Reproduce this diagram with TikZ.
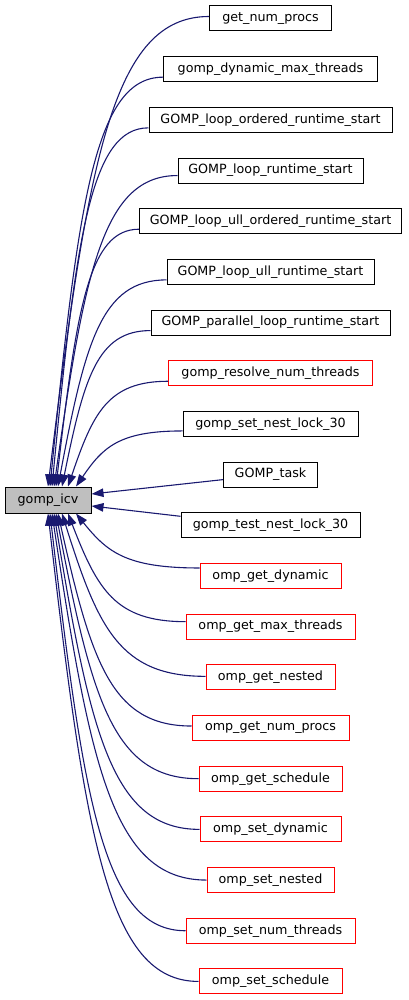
\documentclass[tikz,border=0pt]{standalone}
\usepackage{fontspec}
\setmainfont{DejaVu Sans}
\usetikzlibrary{arrows.meta,calc}
\definecolor{callblue}{HTML}{191970}
\definecolor{icvgray}{HTML}{BFBFBF}
\tikzset{
	every func/.style={
		rectangle,
		draw,
		line width=1pt,
		minimum height=25pt,
		inner sep=0pt,
		font=\fontsize{12.7}{15}\selectfont
	},
	func black/.style={draw=black},
	func red/.style={draw=red},
	call/.style={
		->,
		draw=callblue,
		line width=1.1pt
	},
}
\begin{document}
\begin{tikzpicture}[x=1pt, y=-1pt, >={Triangle[length=12pt,width=8.5pt,fill=callblue]}]

\useasboundingbox (0,0) rectangle (408,1000);

\node [every func/.try, fill=icvgray, minimum width=86pt, minimum height=26pt] (icv) at (48,500) {gomp\_icv};

\foreach \l/\w/\c [count=\k from 0] in {
	get\_num\_procs/122/black,
	gomp\_dynamic\_max\_threads/214/black,
	GOMP\_loop\_ordered\_runtime\_start/243/black,
	GOMP\_loop\_runtime\_start/185/black,
	GOMP\_loop\_ull\_ordered\_runtime\_start/262/black,
	GOMP\_loop\_ull\_runtime\_start/207/black,
	GOMP\_parallel\_loop\_runtime\_start/239/black,
	gomp\_resolve\_num\_threads/204/red,
	gomp\_set\_nest\_lock\_30/175/black,
	GOMP\_task/94/black,
	gomp\_test\_nest\_lock\_30/179/black,
	omp\_get\_dynamic/141/red,
	omp\_get\_max\_threads/169/red,
	omp\_get\_nested/129/red,
	omp\_get\_num\_procs/157/red,
	omp\_get\_schedule/143/red,
	omp\_set\_dynamic/141/red,
	omp\_set\_nested/127/red,
	omp\_set\_num\_threads/169/red,
	omp\_set\_schedule/143/red}
	\node [every func/.try, func \c/.try, minimum width=\w pt] (fn-\k) at (270.5,18.5+50.68*\k) {\l};

% curved calls into the top and bottom of gomp_icv
\foreach \k/\e/\a/\s in {0/0/north/2, 1/2/north/-8, 2/4/north/-8, 3/6/north/-5,
		4/8/north/-8, 5/10/north/-8, 6/14/north/-8, 7/20/north/-8, 8/28/north/-7,
		11/28/south/8, 12/20/south/5, 13/14/south/1, 14/10/south/2, 15/8/south/0,
		16/6/south/0, 17/4/south/0, 18/2/south/0, 19/0/south/0}
	\draw [call] let \p1=([yshift=\s pt]fn-\k.west), \p2=([xshift=\e pt]icv.\a) in
		(\p1) .. controls ({\x2+0.4*(\x1-\x2)},\y1) and ({\x2+0.25*(\x1-\x2)},{\y2+0.7*(\y1-\y2)}) .. (\p2);

% nearly straight calls into the right side
\draw [call] ([yshift=-5pt]fn-9.west) -- ([yshift=6pt]icv.east);
\draw [call] ([yshift=9pt]fn-10.west) -- ([yshift=-6pt]icv.east);

\end{tikzpicture}
\end{document}
